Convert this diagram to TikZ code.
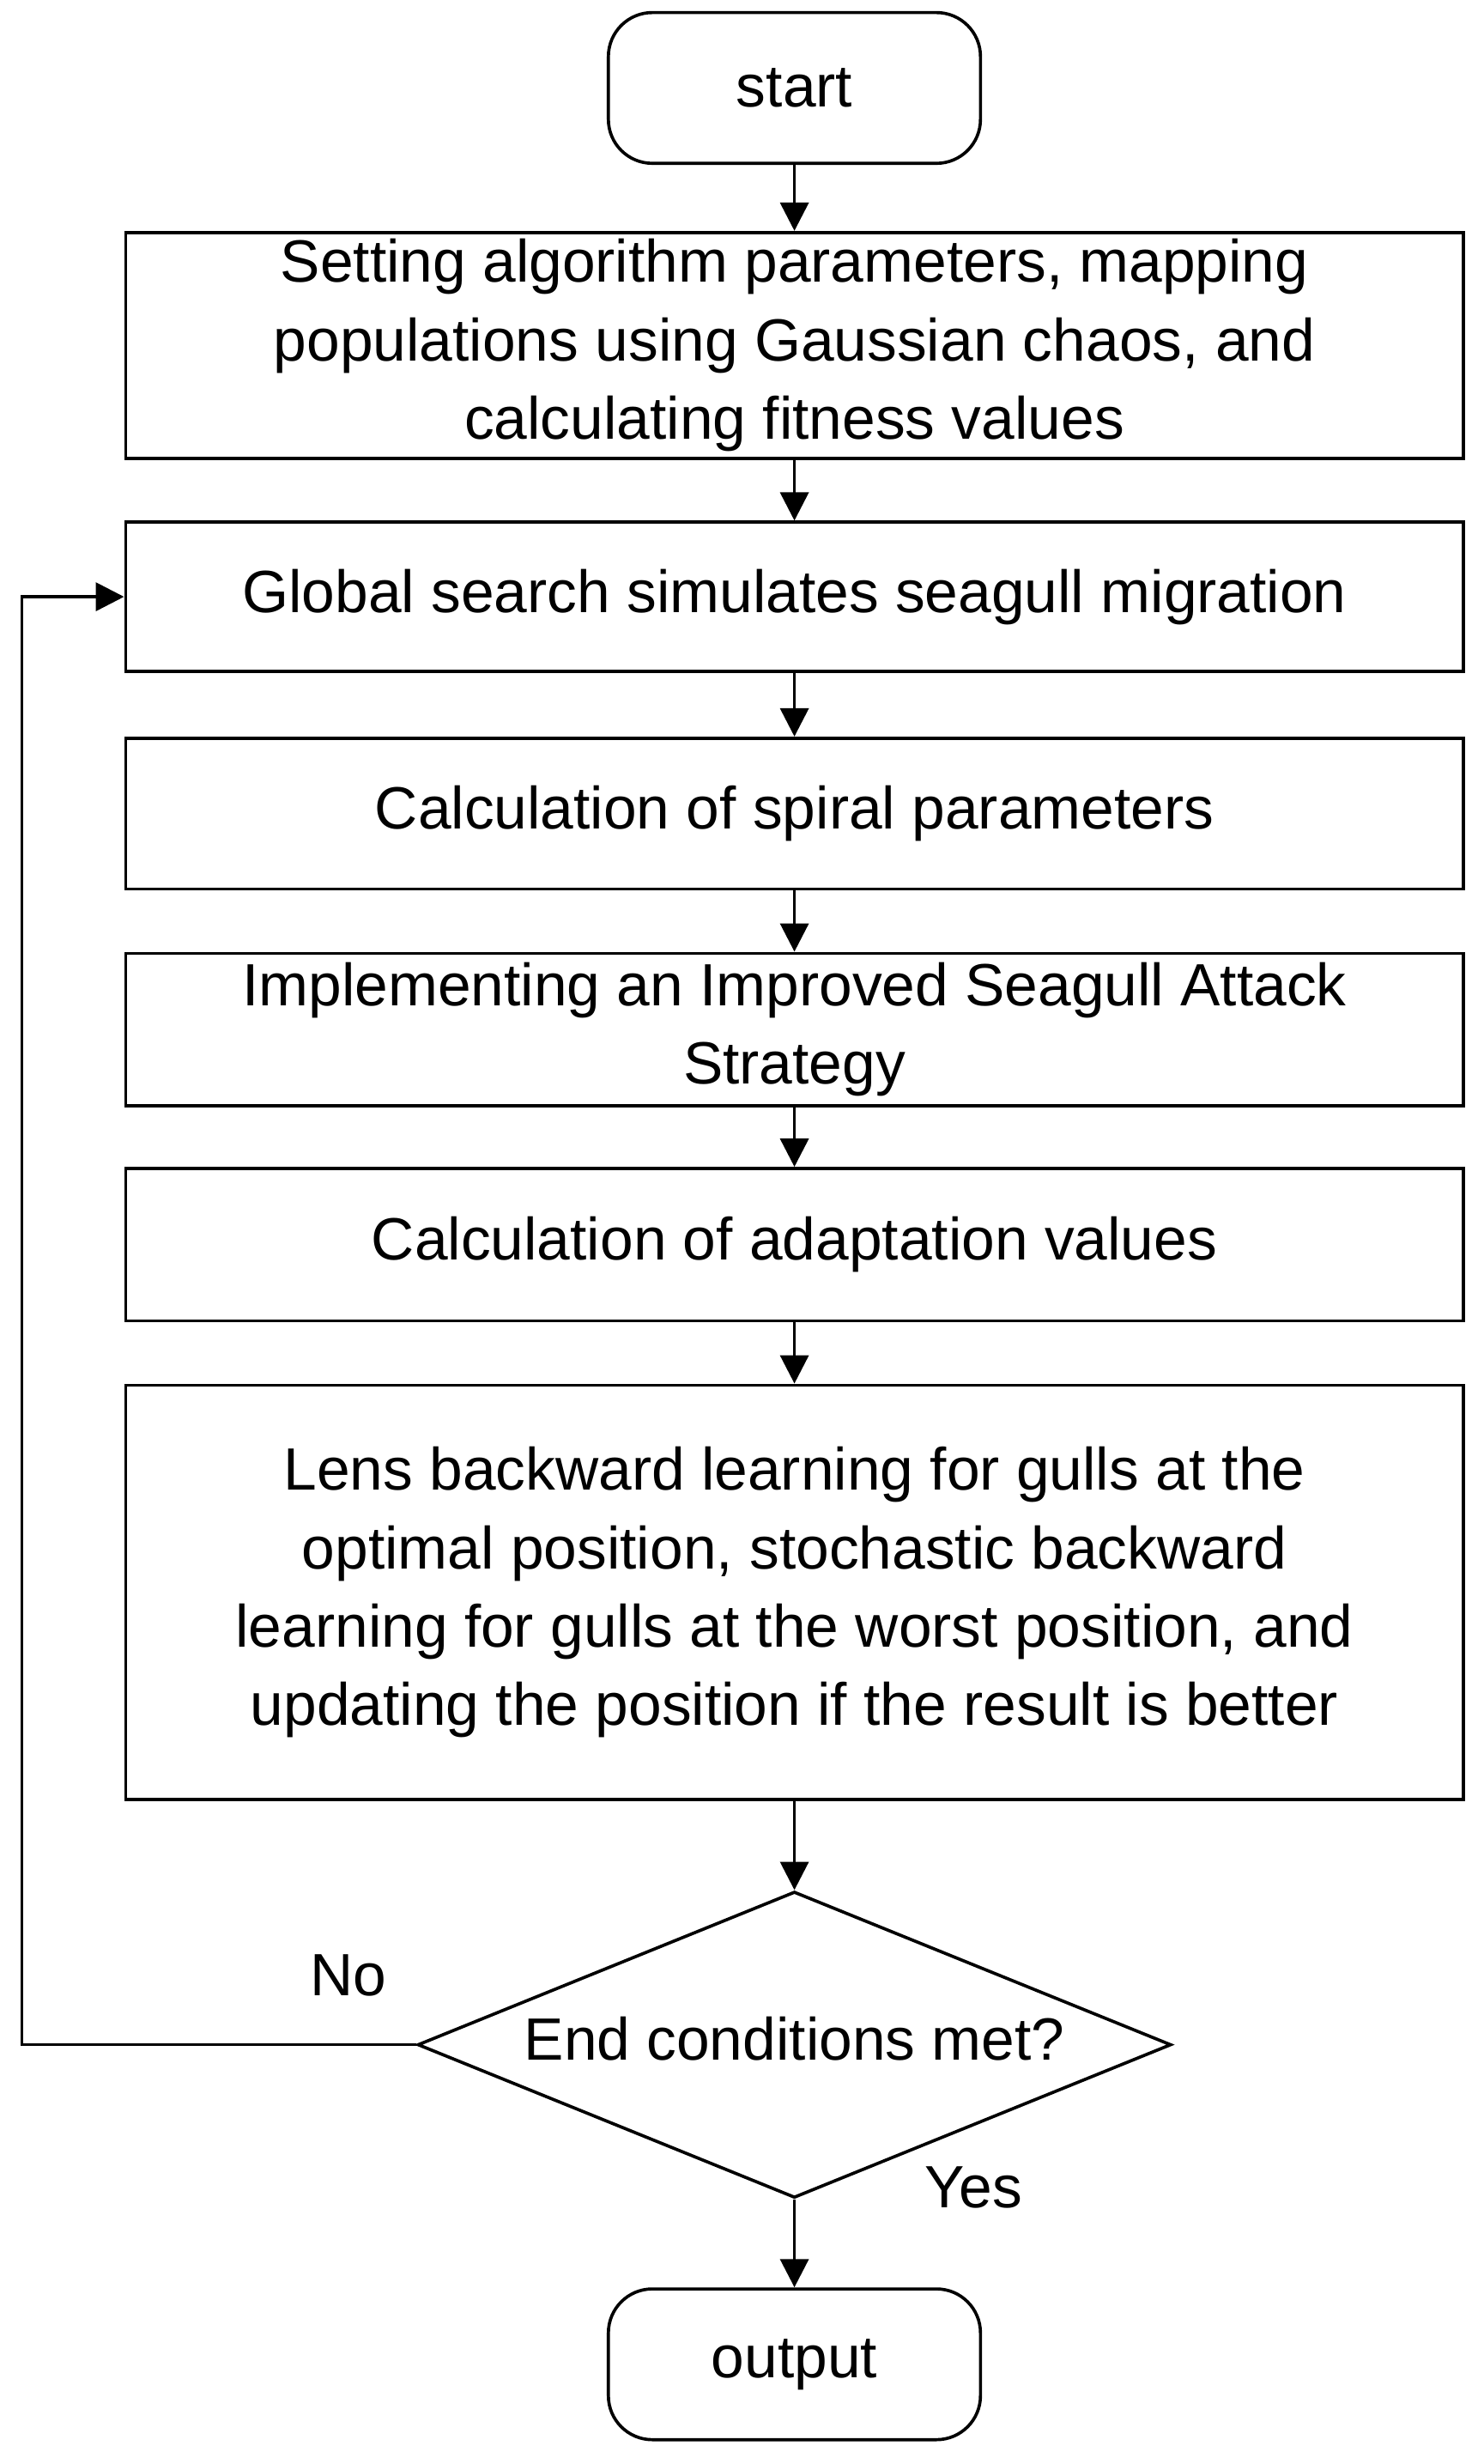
\documentclass[tikz,border=0pt]{standalone}
\usepackage{fontspec}
\setmainfont{Liberation Sans}
\usetikzlibrary{shapes.geometric,arrows.meta}
\begin{document}
\begin{tikzpicture}[x=0.5pt,y=-0.5pt,
  every node/.style={font=\fontsize{19}{25}\selectfont},
  box/.style={draw,line width=1pt,minimum width=426pt,align=center,inner sep=0pt},
  term/.style={draw,line width=1pt,rounded corners=14pt,minimum width=118.5pt,minimum height=48pt},
  arr/.style={line width=1pt,-{Triangle[width=9pt,length=9pt]}}]
\useasboundingbox (0,0) rectangle (945,1569);
\node[term] (start) at (506,56) {start};
\node[box,minimum height=72pt] (b1) at (506,220) {Setting algorithm parameters, mapping\\populations using Gaussian chaos, and\\calculating fitness values};
\node[box,minimum height=47.5pt] (b2) at (506,380) {Global search simulates seagull migration};
\node[box,minimum height=48pt] (b3) at (506,518) {Calculation of spiral parameters};
\node[box,minimum height=48.5pt] (b4) at (506,655.5) {Implementing an Improved Seagull Attack\\Strategy};
\node[box,minimum height=48.5pt] (b5) at (506,792.5) {Calculation of adaptation values};
\node[box,minimum height=132pt] (b6) at (506,1014) {Lens backward learning for gulls at the\\optimal position, stochastic backward\\learning for gulls at the worst position, and\\updating the position if the result is better};
\node[draw,line width=1pt,diamond,aspect=2.46,minimum width=240pt,minimum height=97.5pt,inner sep=0pt] (d) at (506,1302) {};
\node at (506,1298) {End conditions met?};
\node[term] (out) at (506,1505.5) {output};
\coordinate (c1) at (14,1302);
\coordinate (c2) at (14,380);
\draw[arr] (start) -- (b1);
\draw[arr] (b1) -- (b2);
\draw[arr] (b2) -- (b3);
\draw[arr] (b3) -- (b4);
\draw[arr] (b4) -- (b5);
\draw[arr] (b5) -- (b6);
\draw[arr] (b6) -- (d.north);
\draw[arr] (d.south) -- (out);
\draw[arr] (d.west) -- (c1) -- (c2) -- (b2.west);
\node (no) at (222,1258) {No};
\node (yes) at (620,1393) {Yes};
\end{tikzpicture}
\end{document}
